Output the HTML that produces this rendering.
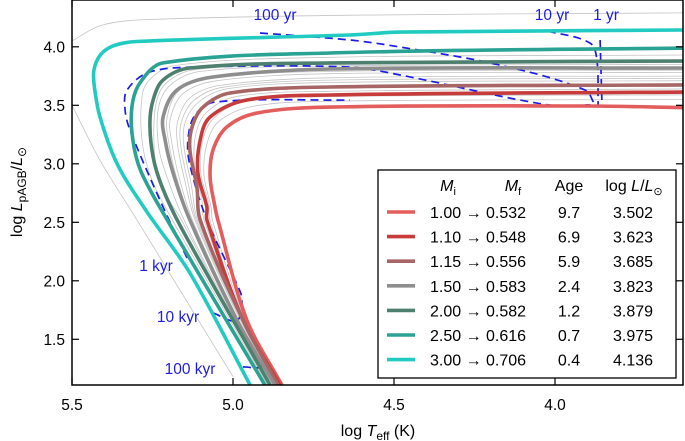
<!DOCTYPE html>
<html><head><meta charset="utf-8"><style>
body{margin:0;background:#fff;}
svg{display:block;font-family:"Liberation Sans",sans-serif;}
</style></head><body>
<svg id="chart" width="685" height="441" viewBox="0 0 685 441" xmlns="http://www.w3.org/2000/svg">
<g id="thin"></g>
<g id="iso"></g>
<g id="tracks"></g>
<g id="axes"></g>
<g id="legend"></g>
</svg>
<script>
const xTicks=[5.5,5.0,4.5,4.0];
const yTicks=[1.5,2.0,2.5,3.0,3.5,4.0];
const trackNames=["1.00","1.10","1.15","1.50","2.00","2.50","3.00"];
const finalMass=["0.532","0.548","0.556","0.583","0.582","0.616","0.706"];
const ages=["9.7","6.9","5.9","2.4","1.2","0.7","0.4"];
const logLs=["3.502","3.623","3.685","3.823","3.879","3.975","4.136"];
const track100=[[3.596,3.48],[3.9,3.494],[4.699,3.485],[4.925,3.434],[5.019,3.315],[5.062,3.118],[5.071,2.887],[5.056,2.631],[5.047,2.52],[4.957,1.665],[4.848,1.109]];
const track110=[[3.596,3.614],[4.699,3.588],[4.957,3.545],[5.071,3.4],[5.102,3.203],[5.109,2.921],[5.081,2.631],[5.081,2.52],[4.969,1.665],[4.854,1.109]];
const track115=[[3.596,3.674],[4.699,3.656],[5.009,3.605],[5.093,3.485],[5.127,3.315],[5.134,3.118],[5.112,2.802],[5.102,2.52],[4.969,1.665],[4.86,1.109]];
const track150=[[3.596,3.819],[4.699,3.81],[5.062,3.742],[5.174,3.631],[5.217,3.4],[5.211,3.203],[5.186,2.921],[5.134,2.52],[4.988,1.665],[4.87,1.109]];
const track200=[[3.596,3.879],[4.699,3.862],[5.134,3.819],[5.217,3.716],[5.248,3.545],[5.258,3.349],[5.248,3.058],[5.22,2.8],[5.16,2.45],[4.885,1.109]];
const track250=[[3.596,3.99],[4.699,3.947],[5.217,3.862],[5.289,3.691],[5.314,3.485],[5.311,3.2],[5.285,2.93],[5.2,2.5],[4.901,1.109]];
const track300=[[3.596,4.144],[4.481,4.126],[4.637,4.101],[5.3,4.045],[5.37,4.01],[5.412,3.93],[5.432,3.8],[5.43,3.65],[5.413,3.4],[5.36,3.0],[5.27,2.6],[5.134,2.067],[4.947,1.109]];
const thin1=[[3.596,3.85],[4.699,3.836],[5.1,3.79],[5.196,3.67],[5.232,3.47],[5.23,3.13],[5.2,2.85],[5.152,2.52],[4.995,1.665],[4.878,1.109]];
const thin2=[[3.596,3.75],[4.699,3.735],[5.04,3.67],[5.135,3.56],[5.172,3.36],[5.172,3.16],[5.15,2.86],[5.118,2.52],[4.978,1.665],[4.865,1.109]];
const thin3=[[3.596,3.71],[4.699,3.695],[5.02,3.64],[5.11,3.52],[5.15,3.34],[5.152,3.14],[5.13,2.83],[5.11,2.52],[4.973,1.665],[4.862,1.109]];
const thin4=[[3.596,3.55],[4.699,3.535],[4.94,3.49],[5.045,3.36],[5.082,3.16],[5.09,2.9],[5.068,2.63],[5.064,2.52],[4.963,1.665],[4.851,1.109]];
const thin5=[[3.596,3.93],[4.699,3.91],[5.18,3.84],[5.265,3.7],[5.285,3.5],[5.28,3.15],[5.25,2.85],[5.18,2.48],[4.893,1.109]];
const thin6=[[3.596,3.78],[4.699,3.77],[5.05,3.71],[5.155,3.6],[5.195,3.38],[5.19,3.18],[5.168,2.89],[5.126,2.52],[4.983,1.665],[4.867,1.109]];
const thin7=[[3.596,3.64],[4.699,3.62],[4.99,3.575],[5.082,3.44],[5.115,3.26],[5.12,3.0],[5.097,2.7],[5.09,2.52],[4.969,1.665],[4.857,1.109]];
const thin8=[[3.596,3.80],[4.699,3.79],[5.08,3.73],[5.17,3.62],[5.205,3.39],[5.2,3.19],[5.177,2.9],[5.13,2.52],[4.985,1.665],[4.868,1.109]];
const thin9=[[3.596,3.73],[4.699,3.715],[5.03,3.655],[5.122,3.54],[5.161,3.35],[5.162,3.15],[5.14,2.845],[5.114,2.52],[4.975,1.665],[4.863,1.109]];
const thin10=[[3.596,3.59],[4.699,3.575],[4.965,3.53],[5.06,3.39],[5.095,3.19],[5.1,2.91],[5.075,2.66],[5.072,2.52],[4.966,1.665],[4.853,1.109]];
const thin11=[[3.596,3.865],[4.699,3.85],[5.118,3.805],[5.207,3.69],[5.24,3.5],[5.244,3.1],[5.224,2.81],[5.16,2.52],[4.999,1.665],[4.88,1.109]];
const thinTop=[[5.5,4.05],[5.413,4.18],[5.289,4.23],[4.637,4.27],[3.596,4.29]];
const thinLeft=[[5.5,3.5],[5.413,3.03],[5.298,2.52],[5.0,1.18]];
const iso1yr=[[3.86,4.058],[3.854,3.503]];
const iso10yr=[[4.022,4.135],[3.891,4.032],[3.87,3.887],[3.866,3.503]];
const iso100yr=[[4.916,4.118],[4.637,4.058],[4.481,3.998],[4.171,3.844],[3.907,3.631],[3.876,3.503]];
const iso1kyr=[[5.143,2.195],[5.227,2.691],[5.32,3.289],[5.335,3.46],[5.329,3.631],[5.258,3.785],[5.102,3.827],[4.637,3.827],[4.481,3.759],[4.022,3.503],[3.891,3.503]];
const iso10kyr=[[5.062,1.725],[4.988,1.665],[4.972,1.836],[4.984,1.947],[5.081,2.52],[5.134,2.99],[5.14,3.203],[5.118,3.417],[5.056,3.528],[4.637,3.545]];
const iso100kyr=[[4.969,1.263],[4.91,1.28],[4.932,1.468],[4.963,1.708]];

const NS="http://www.w3.org/2000/svg";
const X0=72,X1=683,Y0=0,Y1=385;
function xs(t){return 72+(5.5-t)*322;}
function ys(l){return 4.4*117-l*117;}
function mk(tag,attrs,parent){const e=document.createElementNS(NS,tag);for(const k in attrs)e.setAttribute(k,attrs[k]);parent.appendChild(e);return e;}
function pathD(arr,smooth){
 const P=arr.map(p=>[xs(p[0]),ys(p[1])]);
 if(!smooth||P.length<3)return P.map((p,i)=>(i?"L":"M")+p[0].toFixed(1)+","+p[1].toFixed(1)).join("");
 let d="M"+P[0][0].toFixed(1)+","+P[0][1].toFixed(1);
 for(let i=0;i<P.length-1;i++){
  const p0=P[Math.max(0,i-1)],p1=P[i],p2=P[i+1],p3=P[Math.min(P.length-1,i+2)];
  const seg=Math.hypot(p2[0]-p1[0],p2[1]-p1[1]);
  const l1=Math.hypot(p2[0]-p0[0],p2[1]-p0[1])||1,l2=Math.hypot(p3[0]-p1[0],p3[1]-p1[1])||1;
  const k=seg/3;
  const c1=[p1[0]+(p2[0]-p0[0])/l1*k,p1[1]+(p2[1]-p0[1])/l1*k];
  const c2=[p2[0]-(p3[0]-p1[0])/l2*k,p2[1]-(p3[1]-p1[1])/l2*k];
  d+="C"+c1[0].toFixed(1)+","+c1[1].toFixed(1)+" "+c2[0].toFixed(1)+","+c2[1].toFixed(1)+" "+p2[0].toFixed(1)+","+p2[1].toFixed(1);
 }
 return d;
}
const svg=document.getElementById('chart');
const clip=mk('clipPath',{id:'pc'},svg);mk('rect',{x:X0,y:Y0,width:X1-X0,height:Y1-Y0},clip);
['thin','iso','tracks'].forEach(id=>document.getElementById(id).setAttribute('clip-path','url(#pc)'));
const gThin=document.getElementById('thin');
[thin1,thin2,thin3,thin4,thin5,thin6,thin7,thin8,thin9,thin10,thin11,thinTop,thinLeft].forEach(a=>{
 const p=mk('path',{d:pathD(a,true),fill:'none',stroke:'#c4c4c4','stroke-width':0.8},gThin);
 
 
});
const gIso=document.getElementById('iso');
[iso1yr,iso10yr,iso100yr,iso1kyr,iso10kyr,iso100kyr].forEach(a=>{
 const p=mk('path',{d:pathD(a,true),fill:'none',stroke:'#1c1ce6','stroke-width':1.7,'stroke-dasharray':'8,5'},gIso);
 
 
});
const isoLabels=[["100 yr",275,20],["10 yr",552,20],["1 yr",606,20],["1 kyr",156,271],["10 kyr",178,322],["100 kyr",190,374]];
isoLabels.forEach(l=>{const t=mk('text',{x:l[1],y:l[2],'font-size':15.5,fill:'#1c1ce6','text-anchor':'middle'},gIso);t.textContent=l[0];
 
 });
const colors=['#e35d5d','#c73b3b','#a86565','#8e8e8e','#4e8070','#2aa294','#22cbc2'];
const allTracks=[track100,track110,track115,track150,track200,track250,track300];
const gT=document.getElementById('tracks');
allTracks.forEach((a,i)=>{const p=mk('path',{d:pathD(a,true),fill:'none',stroke:colors[i],'stroke-width':3.6,'stroke-linejoin':'round'},gT);
 
 });
const gA=document.getElementById('axes');
const fr=mk('rect',{x:X0,y:Y0,width:X1-X0,height:Y1-Y0,fill:'none',stroke:'#000','stroke-width':1.5},gA);

xTicks.forEach(v=>{const x=xs(v);mk('line',{x1:x,x2:x,y1:Y1,y2:Y1-7,stroke:'#000','stroke-width':1.2},gA);mk('line',{x1:x,x2:x,y1:0,y2:7,stroke:'#000','stroke-width':1.2},gA);
 const t=mk('text',{x:x,y:410,'font-size':15.5,'text-anchor':'middle'},gA);t.textContent=v.toFixed(1);
 });
yTicks.forEach(v=>{const y=ys(v);mk('line',{x1:X0,x2:X0+7,y1:y,y2:y,stroke:'#000','stroke-width':1.2},gA);mk('line',{x1:X1,x2:X1-7,y1:y,y2:y,stroke:'#000','stroke-width':1.2},gA);
 const t=mk('text',{x:X0-7,y:y+5.5,'font-size':15.5,'text-anchor':'end'},gA);t.textContent=v.toFixed(1);
 });
const xl=mk('text',{x:378,y:436,'font-size':16,'text-anchor':'middle'},gA);
xl.innerHTML='log <tspan font-style="italic">T</tspan><tspan font-size="12" dy="4">eff</tspan><tspan dy="-4"> (K)</tspan>';

const yl=mk('text',{x:0,y:0,'font-size':16,'text-anchor':'middle',transform:'translate(22,192) rotate(-90)'},gA);
yl.innerHTML='log <tspan font-style="italic">L</tspan><tspan font-size="12" dy="4">pAGB</tspan><tspan dy="-4">/</tspan><tspan font-style="italic">L</tspan><tspan font-size="12" dy="4">⊙</tspan>';

const gL=document.getElementById('legend');
mk('rect',{x:378,y:170,width:298,height:208,fill:'#fff',stroke:'#000','stroke-width':1.3},gL);
const h1=mk('text',{x:448,y:191,'font-size':16,'text-anchor':'middle'},gL);h1.innerHTML='<tspan font-style="italic">M</tspan><tspan font-size="11" dy="4">i</tspan>';

const h2=mk('text',{x:513,y:191,'font-size':16,'text-anchor':'middle'},gL);h2.innerHTML='<tspan font-style="italic">M</tspan><tspan font-size="11" dy="4">f</tspan>';

const h3=mk('text',{x:569,y:191,'font-size':16,'text-anchor':'middle'},gL);h3.textContent='Age';

const h4=mk('text',{x:634,y:191,'font-size':16,'text-anchor':'middle'},gL);h4.innerHTML='log <tspan font-style="italic">L</tspan>/<tspan font-style="italic">L</tspan><tspan font-size="11" dy="4">⊙</tspan>';

trackNames.forEach((n,i)=>{const y=212+i*24.6;
 const g=mk('g',{},gL);
 
 
 mk('line',{x1:387,x2:415,y1:y,y2:y,stroke:colors[i],'stroke-width':3.6},g);
 const t1=mk('text',{x:430,y:y+6,'font-size':16},g);t1.textContent=n+' → '+finalMass[i];
 const t2=mk('text',{x:569,y:y+6,'font-size':16,'text-anchor':'middle'},g);t2.textContent=ages[i];
 const t3=mk('text',{x:633,y:y+6,'font-size':16,'text-anchor':'middle'},g);t3.textContent=logLs[i];
});
</script>
</body></html>
